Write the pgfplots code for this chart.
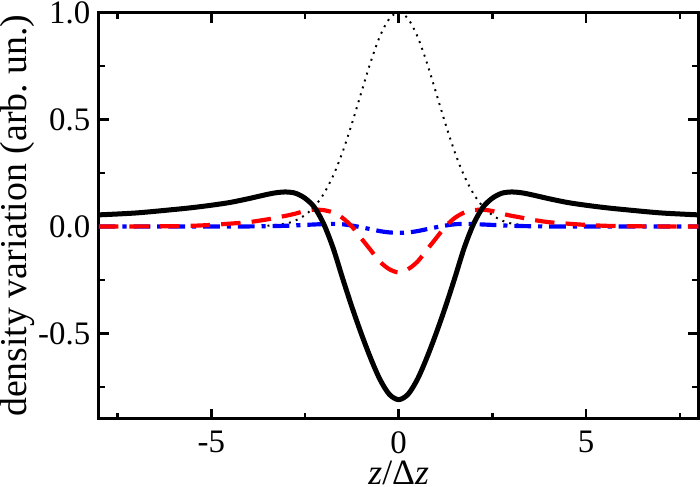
\documentclass[border=0pt]{standalone}
\usepackage{pgfplots}
\pgfplotsset{compat=1.18}
\usepackage{fontspec}
\setmainfont{Liberation Serif}
\begin{document}
\fontsize{12}{14}\selectfont
\begin{tikzpicture}
\begin{axis}[
  scale only axis,
  width=215.6pt, height=146.1pt,
  xmin=-8, xmax=8, ymin=-0.9, ymax=1.0,
  xtick={-5,0,5}, xticklabels={-5,0,5},
  ytick={-0.5,0,0.5,1.0}, yticklabels={-0.5,0.0,0.5,1.0},
  minor xtick={-7.5,-2.5,2.5,7.5},
  minor ytick={-0.75,-0.25,0.25,0.75},
  tick align=inside,
  major tick length=3.6pt, minor tick length=2.2pt,
  every tick/.style={line width=0.9pt, black},
  axis line style={line width=1.1pt},
  tick label style={font=\fontsize{11.8}{14}\selectfont, inner sep=0.5pt},
  yticklabel style={xshift=-2.4pt},
  xticklabel style={yshift=-3.8pt},
  xlabel={\textit{z}/Δ\textit{z}},
  ylabel={density variation (arb.\ un.)},
  label style={inner sep=0pt},
  xlabel style={font=\fontsize{12.8}{15}\selectfont, inner sep=0.8pt, at={(axis description cs:0.5,-0.161)}, anchor=base},
  ylabel style={font=\fontsize{13.6}{16}\selectfont, at={(axis description cs:-0.121,0.5)}, anchor=base},
  clip=true,
]
% reference profile (dotted)
\addplot[black, line width=0.7pt, dash pattern=on 0.7pt off 1.9pt, smooth] coordinates {
(-3.5,0.003) (-3,0.014) (-2.75,0.028) (-2.5,0.053) (-2.25,0.092) (-2,0.152)
(-1.75,0.236) (-1.5,0.346) (-1.25,0.479) (-1,0.624) (-0.75,0.767) (-0.5,0.889)
(-0.25,0.971) (0,1.0) (0.25,0.971) (0.5,0.889) (0.75,0.767) (1,0.624)
(1.25,0.479) (1.5,0.346) (1.75,0.236) (2,0.152) (2.25,0.092) (2.5,0.053)
(2.75,0.028) (3,0.014) (3.5,0.003)
};
% dash-dot component
\addplot[blue, line width=1.5pt, dash pattern=on 6pt off 2.5pt on 1.5pt off 2.5pt, smooth] coordinates {
(-8,0) (-6,0) (-4,0) (-3.5,0.001) (-3,0.003) (-2.5,0.007) (-2,0.011) (-1.75,0.012)
(-1.5,0.01) (-1.25,0.004) (-1,-0.004) (-0.75,-0.013) (-0.5,-0.022) (-0.25,-0.028)
(0,-0.03) (0.25,-0.028) (0.5,-0.022) (0.75,-0.013) (1,-0.004) (1.25,0.004)
(1.5,0.01) (1.75,0.012) (2,0.011) (2.5,0.007) (3,0.003) (3.5,0.001) (4,0) (6,0) (8,0)
};
% dashed component
\addplot[red, line width=1.5pt, dash pattern=on 7pt off 4pt, smooth] coordinates {
(-8,0) (-7,0) (-6,0.001) (-5.5,0.003) (-5,0.007) (-4.5,0.013) (-4,0.02) (-3.5,0.033)
(-3.25,0.042) (-3,0.05) (-2.75,0.06) (-2.5,0.072) (-2.25,0.078) (-2,0.076)
(-1.75,0.065) (-1.5,0.04) (-1.25,0.0) (-1,-0.055) (-0.75,-0.11) (-0.5,-0.165)
(-0.25,-0.2) (0,-0.215) (0.25,-0.2) (0.5,-0.165) (0.75,-0.11) (1,-0.055)
(1.25,0.0) (1.5,0.04) (1.75,0.065) (2,0.076) (2.25,0.078) (2.5,0.072)
(2.75,0.06) (3,0.05) (3.25,0.042) (3.5,0.033) (4,0.02) (4.5,0.013) (5,0.007)
(5.5,0.003) (6,0.001) (7,0) (8,0)
};
% total (solid)
\addplot[black, line width=1.8pt, smooth] coordinates {
(-8,0.054) (-7,0.063) (-6,0.079) (-5.5,0.088) (-5,0.099) (-4.5,0.112) (-4,0.13)
(-3.5,0.15) (-3.25,0.158) (-3,0.161) (-2.75,0.155) (-2.5,0.132) (-2.25,0.09)
(-2,0.012) (-1.75,-0.10) (-1.5,-0.24) (-1.25,-0.375) (-1,-0.50) (-0.75,-0.615)
(-0.5,-0.715) (-0.25,-0.785) (0,-0.81) (0.25,-0.785) (0.5,-0.715) (0.75,-0.615)
(1,-0.50) (1.25,-0.375) (1.5,-0.24) (1.75,-0.10) (2,0.012) (2.25,0.09)
(2.5,0.132) (2.75,0.155) (3,0.161) (3.25,0.158) (3.5,0.15) (4,0.13) (4.5,0.112)
(5,0.099) (5.5,0.088) (6,0.079) (7,0.063) (8,0.054)
};
\end{axis}
\end{tikzpicture}
\end{document}
